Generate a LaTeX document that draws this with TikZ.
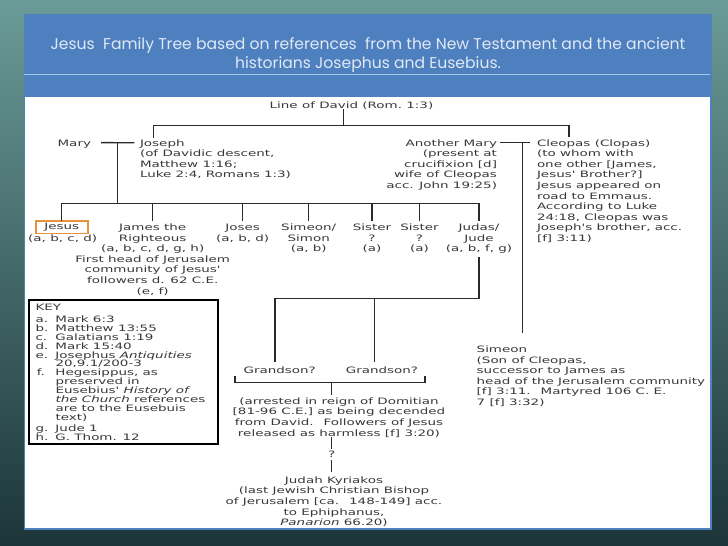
\documentclass[tikz,border=0pt]{standalone}
\usepackage{fontspec}
\newfontfamily\dfont[FakeStretch=1.53]{DejaVu Sans}
\newfontfamily\tfont{Poppins}
\usetikzlibrary{calc}
\definecolor{tgray}{HTML}{383838}
\definecolor{lgray}{HTML}{2A2A2A}
\definecolor{panel}{HTML}{4E7FBE}
\definecolor{sepl}{HTML}{A6C6EE}
\definecolor{ttext}{HTML}{E0E9F5}
\definecolor{jorange}{HTML}{E8923C}
\definecolor{bgtop}{HTML}{6A9B98}
\definecolor{bgbot}{HTML}{1C3538}
\newcommand\fs{\rule{0pt}{7pt}}
\newcommand\kl[1]{\makebox[20pt][l]{#1}}
\tikzset{
  txt/.style={font=\dfont\fontsize{8.8}{10.6}\selectfont, text=tgray, inner sep=0pt, outer sep=0pt},
  ln/.style={draw=lgray, line width=1.3pt},
  titletxt/.style={font=\tfont\fontsize{15.6}{19}\selectfont, text=ttext, align=center, inner sep=0pt},
  jbox/.style={txt, draw=jorange, line width=1.6pt, minimum width=52pt, minimum height=12.6pt},
  keybox/.style={draw=black, line width=1.8pt, minimum width=188.4pt, minimum height=144pt, inner sep=0pt}
}
\begin{document}
\begin{tikzpicture}[x=1pt,y=-1pt]
\useasboundingbox (0,0) rectangle (728,546);
% background
\shade[top color=bgtop, bottom color=bgbot] (0,0) rectangle (728,546);
\fill[panel] (24,14) rectangle (711.5,530);
\draw[sepl, line width=1.5pt] (24,74.5) -- (710,74.5);
\node[titletxt] (title) at (368,55.5) {Jesus~ Family Tree based on references~ from the New Testament and the ancient\\historians Josephus and Eusebius.};
\fill[white] (25,96.5) rectangle (709.5,527.5);
\begin{scope}
\clip (25,96.5) rectangle (709.5,527.5);
% top generation
\node[txt, anchor=north] (david) at (351.5,101.2) {\fs Line of David (Rom.~1:3)};
\node[txt, anchor=north east] (mary) at (91,139) {\fs Mary};
\node[txt, align=left, anchor=north west] (joseph) at (140,139) {\fs Joseph\\(of Davidic descent,\\Matthew 1:16;\\Luke 2:4, Romans 1:3)};
\node[txt, align=right, anchor=north east] (amary) at (497,139) {\fs Another Mary\\(present at\\crucifixion [d]\\wife of Cleopas\\acc. John 19:25)};
\node[txt, align=left, anchor=north west] (cleo) at (537,139) {\fs Cleopas (Clopas)\\(to whom with\\one other [James,\\Jesus' Brother?]\\Jesus appeared on\\road to Emmaus.\\According to Luke\\24:18, Cleopas was\\Joseph's brother, acc.\\{}[f] 3:11)};
% children
\node[jbox] (jesus) at (61.7,227) {Jesus};
\node[txt, anchor=north] (jref) at (62.7,234.5) {\fs (a, b, c, d)};
\node[txt, align=center, anchor=north] (james) at (152.7,223.5) {\fs James the\\Righteous\\(a, b, c, d, g, h)\\First head of Jerusalem\\community of Jesus'\\followers d. 62 C.E.\\(e, f)};
\node[txt, align=center, anchor=north] (joses) at (242.7,223.5) {\fs Joses\\(a, b, d)};
\node[txt, align=center, anchor=north] (simeon) at (308.7,223.5) {\fs Simeon/\\Simon\\(a, b)};
\node[txt, align=center, anchor=north] (sis1) at (372,223.5) {\fs Sister\\?\\(a)};
\node[txt, align=center, anchor=north] (sis2) at (419.5,223.5) {\fs Sister\\?\\(a)};
\node[txt, align=center, anchor=north] (judas) at (479,223.5) {\fs Judas/\\Jude\\(a, b, f, g)};
% grandsons
\node[txt, anchor=north] (gs1) at (279.7,366.2) {\fs Grandson?};
\node[txt, anchor=north] (gs2) at (382,366.2) {\fs Grandson?};
\node[txt, align=center, anchor=north] (arrested) at (339,397.2) {\fs (arrested in reign of Domitian\\{}[81-96 C.E.] as being decended\\from David.~ Followers of Jesus\\released as harmless [f] 3:20)};
\node[txt] (q) at (331.7,454) {?};
\node[txt, align=center, anchor=north] (judah) at (334,476.2) {\fs Judah Kyriakos\\(last Jewish Christian Bishop\\of Jerusalem [ca.~ 148-149] acc.\\to Ephiphanus,\\\textit{Panarion} 66.20)};
\node[txt, align=left, anchor=north west] (simeon2) at (476.7,345.5) {\fs Simeon\\(Son of Cleopas,\\successor to James as\\head of the Jerusalem community\\{}[f] 3:11.~ Martyred 106 C. E.\\7 [f] 3:32)};
% key
\node[keybox, anchor=north west] (keybox) at (28.3,299.3) {};
\node[txt, align=left, anchor=north west, font=\dfont\fontsize{8.8}{8.9}\selectfont] (keytext) at (35.5,303.5) {\fs KEY\\[3pt]
\kl{a.}Mark 6:3\\
\kl{b.}Matthew 13:55\\
\kl{c.}Galatians 1:19\\
\kl{d.}Mark 15:40\\
\kl{e.}Josephus \textit{Antiquities}\\
\kl{}20,9.1/200-3\\
\kl{\,f.}Hegesippus, as\\
\kl{}preserved in\\
\kl{}Eusebius' \textit{History of}\\
\kl{}\textit{the Church} references\\
\kl{}are to the Eusebuis\\
\kl{}text)\\[2.4pt]
\kl{g.}Jude 1\\
\kl{h.}G. Thom. 12};
% junction coordinates
\coordinate (top) at (343.3,125.7);
\coordinate (mj) at (117.3,142.7);
\coordinate (kbar) at (117.3,203.3);
\coordinate (ac) at (522.3,142.7);
\coordinate (acb) at (522.3,333);
\coordinate (g1) at (275,298.5);
\coordinate (g2) at (374.3,298.5);
\coordinate (g1b) at (275,361.7);
\coordinate (g2b) at (374.3,361.7);
\coordinate (blt) at (235,376);
\coordinate (bl) at (235,382.7);
\coordinate (br) at (425,382.7);
\coordinate (brt) at (425,376);
\coordinate (bm) at (331.7,382.7);
\coordinate (bmb) at (331.7,395);
\coordinate (qa) at (331.7,437.3);
\coordinate (qb) at (331.7,449.3);
\coordinate (qc) at (331.7,460);
\coordinate (qd) at (331.7,471.7);
% connectors
\draw[ln] (david.south -| top) -- (top);
\draw[ln] ([xshift=13.3pt,yshift=1.5pt]joseph.north west) |- (top) -| ([xshift=32pt,yshift=2.5pt]cleo.north west);
\draw[ln] ([xshift=10pt,yshift=0.8pt]mary.east) -- ([xshift=-5.7pt,yshift=-3.7pt]joseph.north west);
\draw[ln] (mj) -- (kbar);
\draw[ln] (jesus.north |- kbar) -- (judas.north |- kbar);
\draw[ln] (jesus.north |- kbar) -- (jesus.north);
\foreach \c in {james,joses,simeon,sis1,sis2,judas}
  \draw[ln] (\c.north |- kbar) -- ([yshift=2.8pt]\c.north);
\draw[ln] ([xshift=3pt,yshift=-3.7pt]amary.north east) -- ([xshift=-7pt,yshift=-3.7pt]cleo.north west);
\draw[ln] (ac) -- (acb);
\draw[ln] ([yshift=-3pt]judas.south -| judas.north) |- (g1) -- (g1b);
\draw[ln] (g2) -- (g2b);
\draw[ln] (blt) -- (bl) -- (br) -- (brt);
\draw[ln] (bm) -- (bmb);
\draw[ln] (qa) -- (qb);
\draw[ln] (qc) -- (qd);
\end{scope}
\end{tikzpicture}
\end{document}
